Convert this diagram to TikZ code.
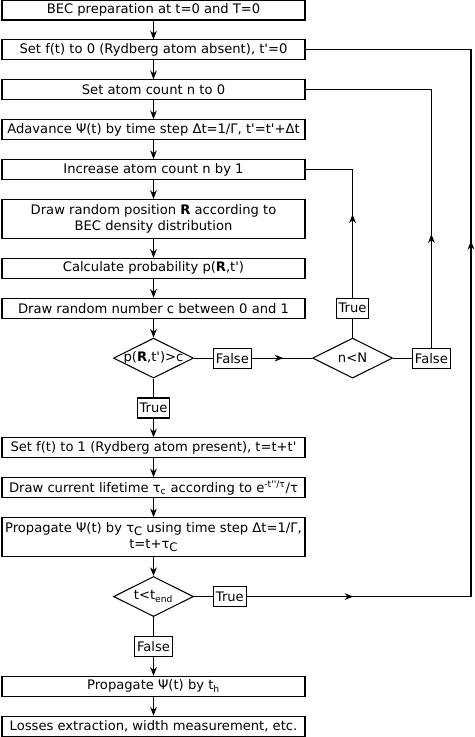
\documentclass[tikz,border=0pt]{standalone}
\usepackage{fontspec}
\newfontfamily\flowfont{DejaVu Sans}
\usetikzlibrary{positioning, arrows.meta, shapes.geometric, decorations.markings}

\begin{document}
\begin{tikzpicture}[
  font=\flowfont\fontsize{11.2}{14}\selectfont,
  node distance=0.565cm,
  line width=0.9pt,
  proc/.style={draw, minimum width=9.09cm, minimum height=0.6cm, align=center, inner sep=1pt},
  proctwo/.style={proc, minimum height=1.17cm},
  dec/.style={draw, diamond, aspect=2, minimum width=2.4cm, minimum height=1.2cm, inner sep=-1.5pt},
  lbl/.style={draw, minimum height=0.6cm, inner sep=2pt},
  a/.style={-{Stealth[length=2.6mm, width=2mm]}},
  mid/.style={postaction={decorate}, decoration={markings, mark=at position #1 with {\arrow{Stealth[length=2.6mm, width=2mm]}}}},
  midtwo/.style 2 args={postaction={decorate}, decoration={markings,
    mark=at position #1 with {\arrow{Stealth[length=2.6mm, width=2mm]}},
    mark=at position #2 with {\arrow{Stealth[length=2.6mm, width=2mm]}}}}
]
\useasboundingbox (0,0) rectangle (14.22,-22.11);
% main column
\node[proc] (b1) at (4.605,-0.3) {BEC preparation at t=0 and T=0};
\node[proc, below=of b1] (b2) {Set f(t) to 0 (Rydberg atom absent), t'=0};
\node[proc, below=of b2] (b3) {Set atom count n to 0};
\node[proc, below=of b3] (b4) {Adavance Ψ(t) by time step Δt=1/Γ, t'=t'+Δt};
\node[proc, below=of b4] (b5) {Increase atom count n by 1};
\node[proctwo, below=of b5] (b6) {Draw random position \textbf{R} according to\\BEC density distribution};
\node[proc, below=of b6] (b7) {Calculate probability p(\textbf{R},t')};
\node[proc, below=of b7] (b8) {Draw random number c between 0 and 1};
\node[dec, below=of b8] (pc) {p(\textbf{R},t')>c};
\node[lbl, below=of pc] (pcT) {True};
\node[proc, below=of pcT] (b9) {Set f(t) to 1 (Rydberg atom present), t=t+t'};
\node[proc, below=of b9] (b10) {Draw current lifetime τ\textsubscript{c} according to e\textsuperscript{-t''/τ}/τ};
\node[proctwo, below=of b10] (b11) {Propagate Ψ(t) by τ\raisebox{-0.4ex}{\fontsize{10}{12}\selectfont C} using time step Δt=1/Γ,\\t=t+τ\raisebox{-0.4ex}{\fontsize{10}{12}\selectfont C}};
\node[dec, below=of b11] (te) {t<t\textsubscript{end}};
\node[lbl, below=of te] (teF) {False};
\node[proc, below=of teF] (b12) {Propagate Ψ(t) by t\textsubscript{h}};
\node[proc, below=of b12] (b13) {Losses extraction, width measurement, etc.};
% side branch
\node[lbl, right=0.57cm of pc] (pcF) {False};
\node[dec, right=3.54cm of pc] (nN) {n<N};
\node[lbl, above=of nN] (nNT) {True};
\node[lbl, right=0.57cm of nN] (nNF) {False};
\node[lbl, right=0.57cm of te] (teT) {True};
\coordinate (rail) at (14.13,0);
% connectors
\foreach \s/\t in {b1/b2, b2/b3, b3/b4, b4/b5, b5/b6, b6/b7, b7/b8, b8/pc, pcT/b9, b9/b10, b10/b11, b11/te, teF/b12, b12/b13}
  \draw[a] (\s) -- (\t);
\draw (pc) -- (pcT);
\draw (te) -- (teF);
\draw (pc) -- (pcF);
\draw[mid=0.95cm] (pcF.east) -- (nN.west);
\draw (nN) -- (nNT);
\draw[mid=2.5cm] (nNT.north) |- (b5.east);
\draw (nN) -- (nNF);
\draw[mid=3.4cm] (nNF.north) |- (b3.east);
\draw (te) -- (teT);
\draw[midtwo={3.2cm}{17.4cm}] (teT.east) -- (teT.east -| rail) |- (b2.east);
\end{tikzpicture}
\end{document}
